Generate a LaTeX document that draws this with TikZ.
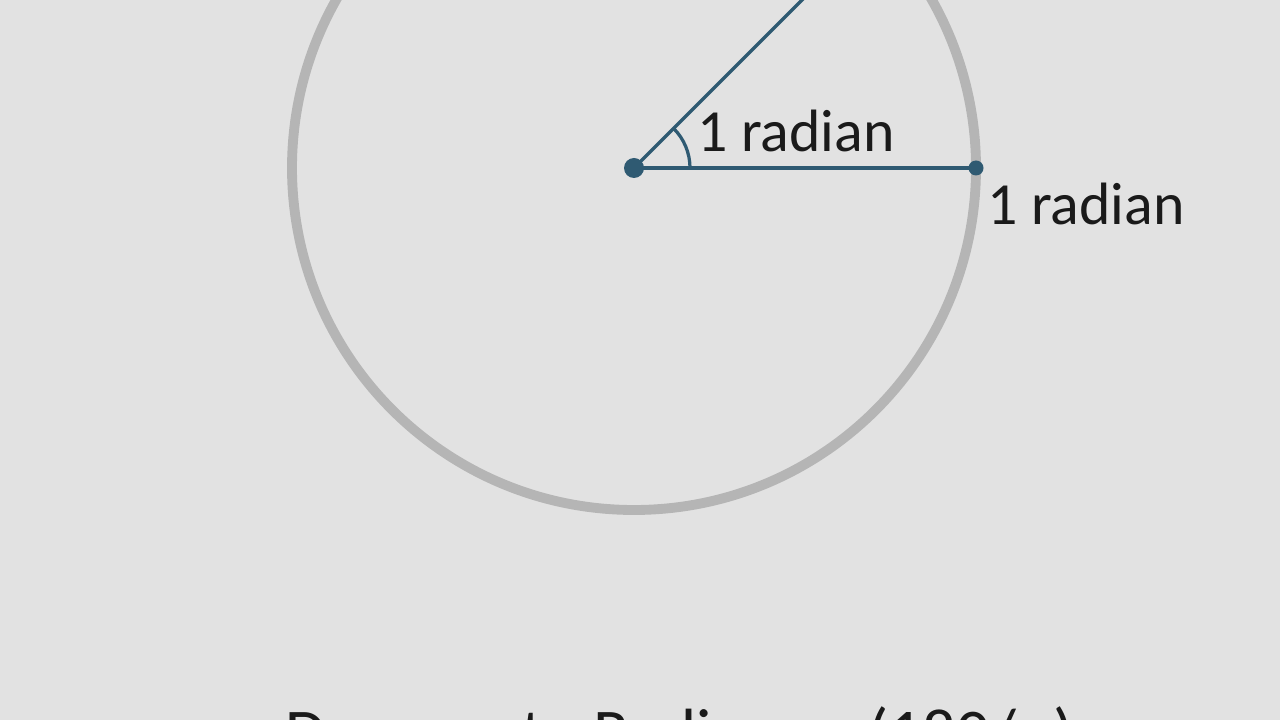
\documentclass[tikz,border=0pt]{standalone}
\usepackage{fontspec}
\setmainfont{Carlito}
\usetikzlibrary{calc,positioning,intersections}
\definecolor{bgpaper}{HTML}{E2E2E2}
\definecolor{rimgray}{HTML}{B5B5B5}
\definecolor{raycolor}{HTML}{2F5A72}
\definecolor{inkcolor}{HTML}{1A1A1A}
\def\unitcircle{[name path=unitcircle] (O) circle (342)}
\begin{document}
\begin{tikzpicture}[x=0.025cm,y=-0.025cm,
    ray/.style={raycolor, line width=2.3pt},
    rim/.style={rimgray, line width=7pt},
    lbl/.style={font=\fontsize{42.5}{50}\selectfont, text=inkcolor, inner sep=0pt, anchor=base west}]
    \fill[bgpaper] (0,0) rectangle (1280,720);
    \useasboundingbox (0,0) rectangle (1280,720);
    \coordinate (O) at (634,168);
    \coordinate (P) at ($(O)+(0:342)$);
    \coordinate (R) at ($(O)+(-45:400)$);
    \draw[rim] \unitcircle;
    \draw[ray] (O) -- (P);
    \draw[ray] (O) -- (R);
    \draw[ray] ($(O)+(56,0)$) arc (0:-45:56);
    \fill[raycolor] (O) circle (10);
    \fill[raycolor] (P) circle (7.5);
    \node[lbl] (angle) at (697,152) {1 radian};
    \node[lbl] (arclen) at (987,225) {1 radian};
    \node[lbl, font=\fontsize{47.5}{56}\selectfont] (caption) at (285,755) {Degrees to Radians > (180/π)};
\end{tikzpicture}
\end{document}
